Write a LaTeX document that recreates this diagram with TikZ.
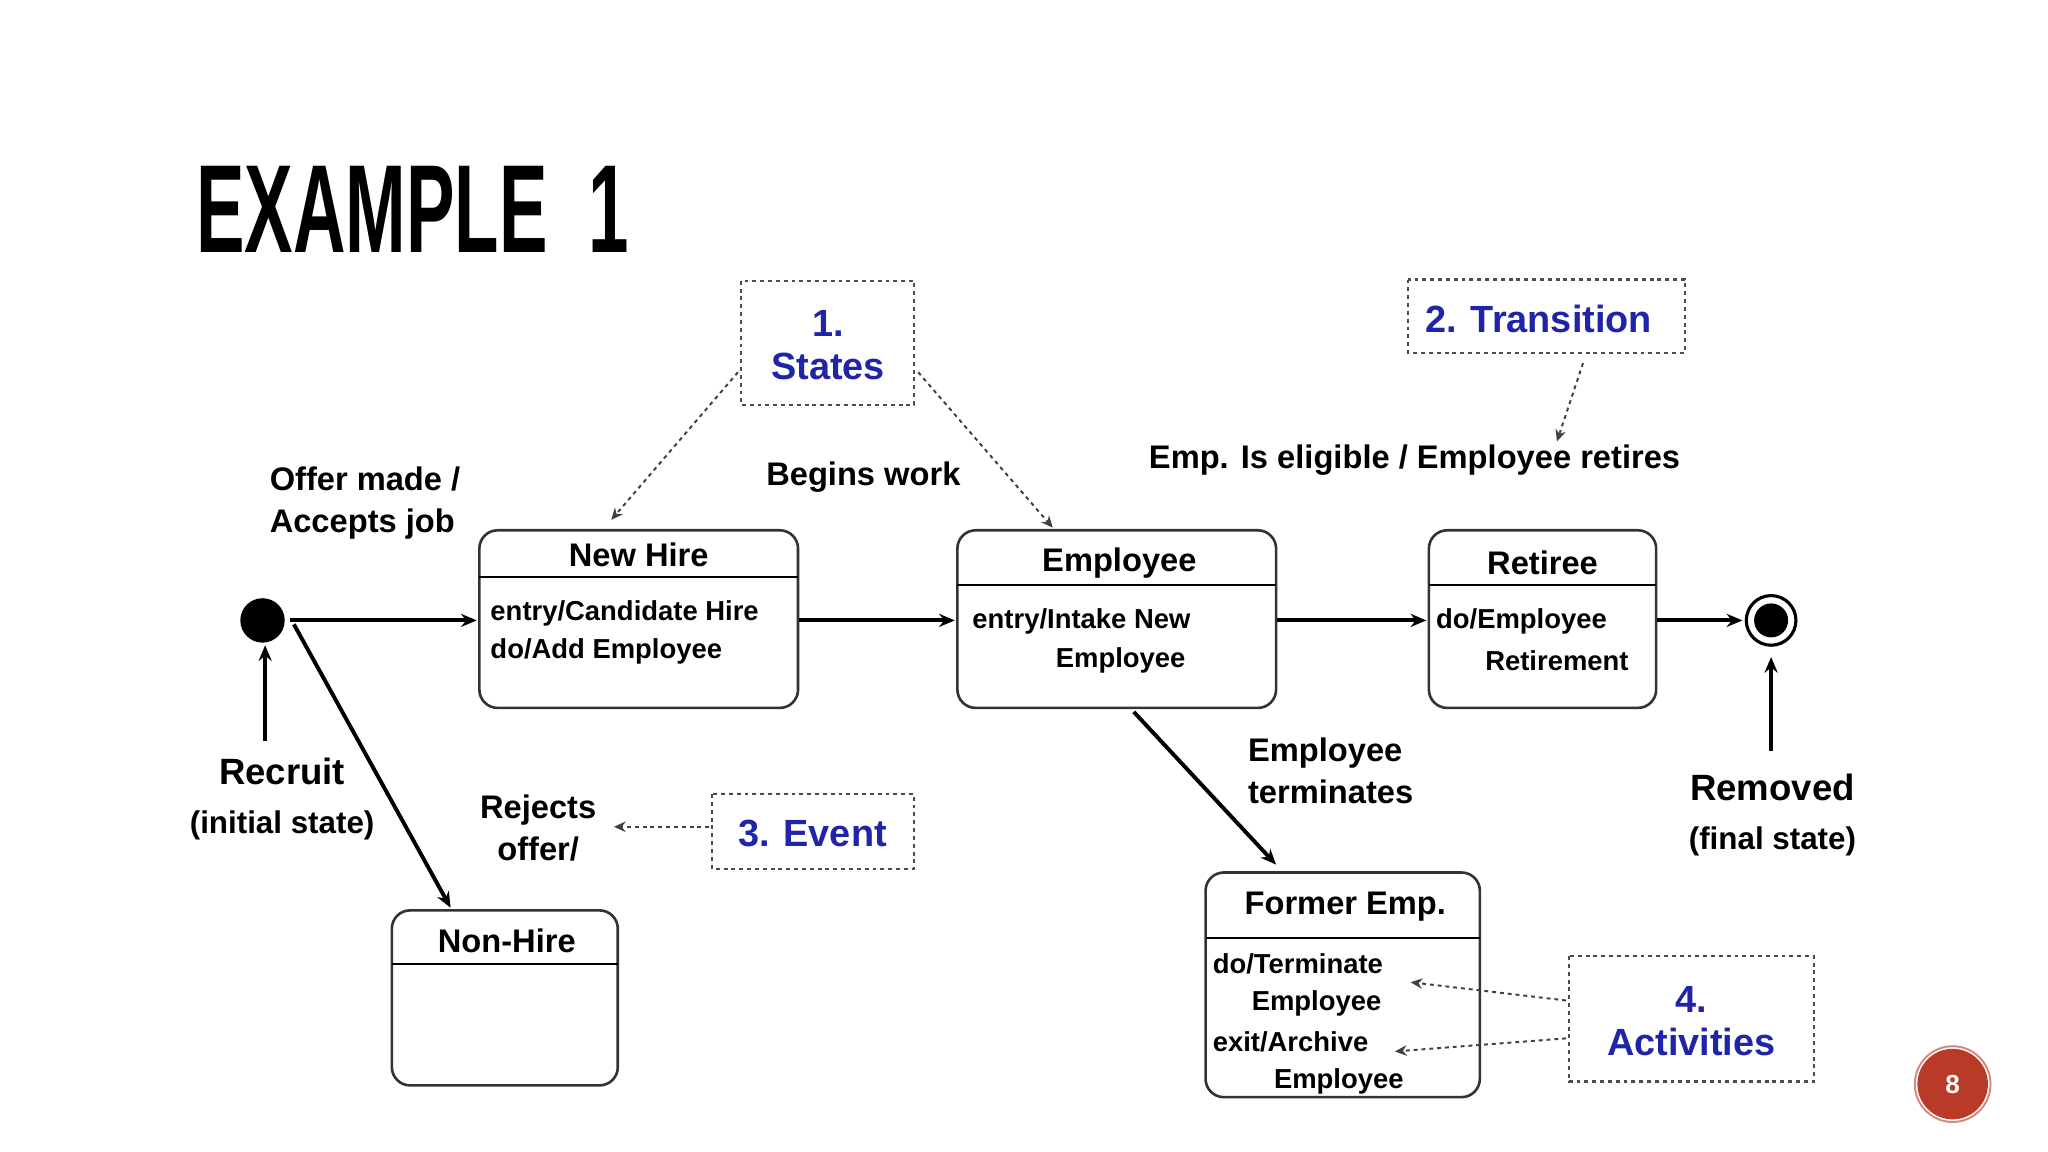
\documentclass[tikz,border=0pt]{standalone}
\usepackage{fontspec}
\setmainfont{Liberation Sans}
\usetikzlibrary{arrows.meta}
\definecolor{annblue}{HTML}{1F24A8}
\definecolor{badge}{HTML}{B93A26}
\begin{document}
\begin{tikzpicture}[x=1pt,y=-1pt,
  stbox/.style={draw=black!80,line width=2pt,rounded corners=14pt},
  ann/.style={draw=black!70,dashed,line width=1.6pt},
  anntext/.style={text=annblue,font=\fontsize{29}{33}\selectfont\bfseries,align=center},
  lbl/.style={font=\fontsize{25}{32}\selectfont\bfseries,align=center},
  body/.style={font=\fontsize{21}{24}\selectfont\bfseries,anchor=west},
  bodyc/.style={font=\fontsize{21}{24}\selectfont\bfseries},
  tr/.style={line width=3pt,-{Stealth[length=12pt,width=10pt]}},
  da/.style={dashed,line width=1.5pt,black!75,-{Stealth[length=9pt,width=8pt]}}]
\useasboundingbox (0,0) rectangle (1568,882);
\node[anchor=west,inner sep=0] (title) at (150,160) {\scalebox{0.58}[1]{\fontsize{96}{96}\selectfont\bfseries EXAMPLE\ \ 1}};
% states
\draw[stbox] (367,406) rectangle (611,542); \draw[line width=1.8pt] (367,442)--(611,442);
\node[lbl] (nh) at (489,425) {New Hire};
\node[body] (nh1) at (372,470) {entry/Candidate Hire};
\node[body] (nh2) at (372,499) {do/Add Employee};
\draw[stbox] (733,406) rectangle (977,542); \draw[line width=1.8pt] (733,448)--(977,448);
\node[lbl] (em) at (857,431) {Employee};
\node[body] (em1) at (741,476) {entry/Intake New};
\node[bodyc] (em2) at (858,506) {Employee};
\draw[stbox] (1094,406) rectangle (1268,542); \draw[line width=1.8pt] (1094,448)--(1268,448);
\node[lbl] (re) at (1181,431) {Retiree};
\node[body] (re1) at (1096,476) {do/Employee};
\node[bodyc] (re2) at (1192,506) {Retirement};
\draw[stbox] (923,668) rectangle (1133,840); \draw[line width=1.8pt] (923,718)--(1133,718);
\node[lbl] (fe) at (1030,694) {Former Emp.};
\node[body] (fe1) at (925,738) {do/Terminate};
\node[bodyc] (fe2) at (1008,768) {Employee};
\node[body] (fe3) at (925,798) {exit/Archive};
\node[bodyc] (fe4) at (1025,828) {Employee};
\draw[stbox] (300,697) rectangle (473,831); \draw[line width=1.8pt] (300,738)--(473,738);
\node[lbl] (no) at (388,720) {Non-Hire};
% pseudo states
\fill (201,475) circle (17); \coordinate (init) at (201,475);
\draw[line width=2.4pt] (1356,475) circle (19); \fill (1356,475) circle (13);
% transitions
\draw[tr] (222,475)--(365,475);
\draw[tr] (612,475)--(731,475);
\draw[tr] (978,475)--(1092,475);
\draw[tr] (1269,475)--(1334,475);
\draw[tr] (225,478)--(345,695);
\draw[tr] (868,545)--(977,662);
\draw[tr] (203,567)--(203,494);
\draw[tr] (1356,575)--(1356,503);
% labels
\node[lbl,align=left,anchor=west] (offer) at (203,385) {Offer made /\\Accepts job};
\node[lbl] (bw) at (661,365) {Begins work};
\node[lbl] (elig) at (1083,352) {Emp. Is eligible / Employee retires};
\node[font=\fontsize{28}{32}\selectfont\bfseries] (rec) at (216,591) {Recruit};
\node[font=\fontsize{24}{28}\selectfont\bfseries] (rec2) at (216,632) {(initial state)};
\node[lbl] (rej) at (412,634) {Rejects\\offer/};
\node[lbl,align=left,anchor=west] (term) at (952,590) {Employee\\terminates};
\node[font=\fontsize{28}{32}\selectfont\bfseries] (rm) at (1357,603) {Removed};
\node[font=\fontsize{24}{28}\selectfont\bfseries] (rm2) at (1357,644) {(final state)};
% annotations
\draw[ann] (567,215) rectangle (700,310); \node[anntext] (a1) at (634,264) {1.\\States};
\draw[ann] (1078,214) rectangle (1290,270); \node[anntext] (a2) at (1178,244) {2. Transition};
\draw[ann] (545,608) rectangle (700,665); \node[anntext] (a3) at (622,638) {3. Event};
\draw[ann] (1201,732) rectangle (1389,828); \node[anntext] (a4) at (1295,782) {4.\\Activities};
\draw[da] (565,285)--(468,398);
\draw[da] (703,285)--(806,404);
\draw[da] (1212,278)--(1192,338);
\draw[da] (543,633)--(470,633);
\draw[da] (1199,766)--(1080,752);
\draw[da] (1199,795)--(1068,805);
% badge
\fill[badge] (1495,830) circle (27);
\draw[badge!60!white,line width=1.5pt] (1495,830) circle (29);
\node[text=white,font=\fontsize{20}{20}\selectfont\bfseries] (pg) at (1495,830) {8};
\end{tikzpicture}
\end{document}
